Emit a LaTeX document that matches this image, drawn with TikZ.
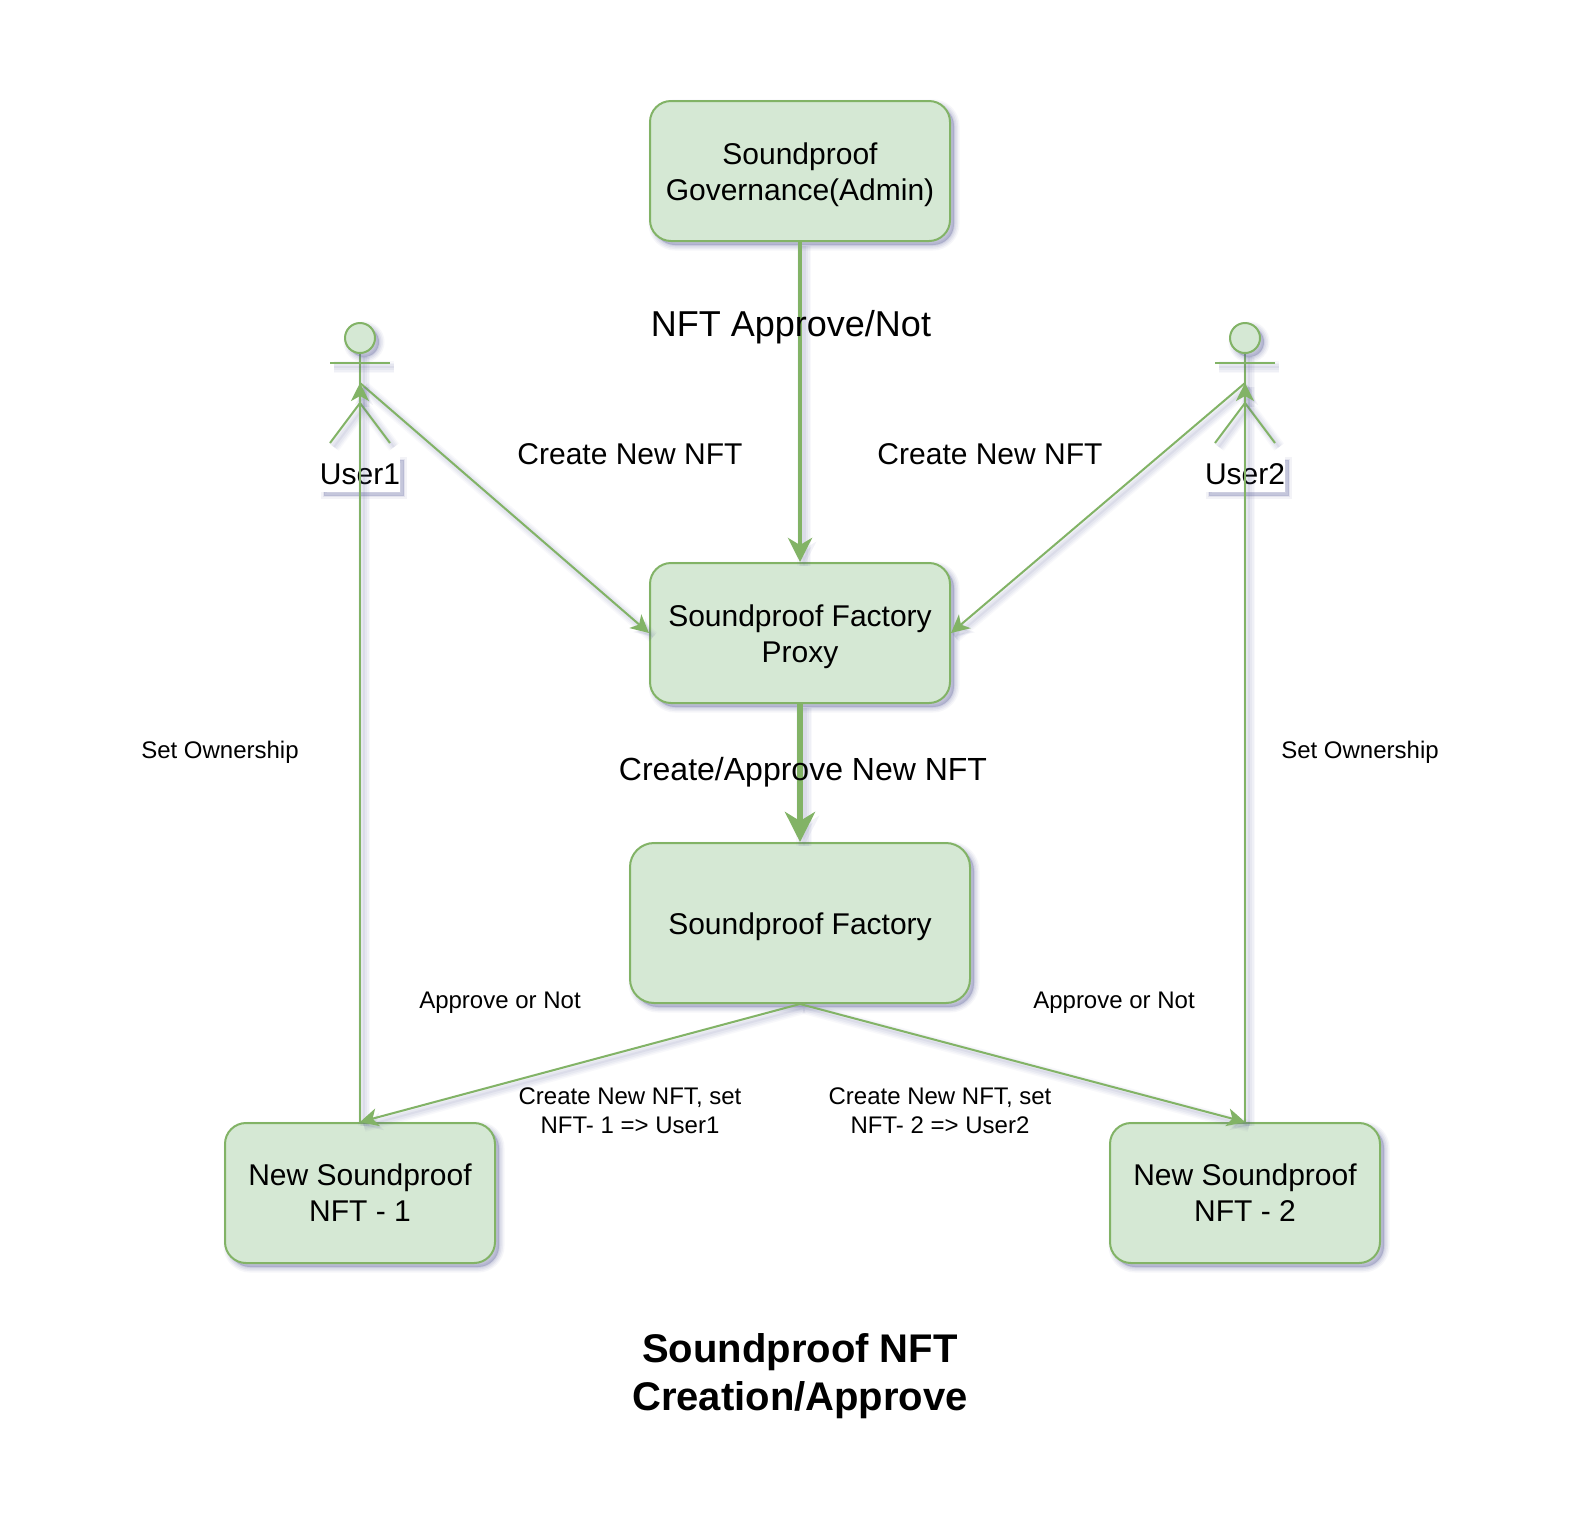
\documentclass[tikz,border=0pt]{standalone}
\usepackage{fontspec}
\setmainfont{Liberation Sans}
\usetikzlibrary{arrows.meta}
\definecolor{gfill}{HTML}{D5E8D4}
\definecolor{gline}{HTML}{82B366}
\definecolor{shc}{HTML}{5A5F9A}
\definecolor{ink}{HTML}{000000}
\newcommand{\fsz}[1]{\fontsize{#1}{\dimexpr#1pt*6/5\relax}\selectfont}
\newcommand{\st}{\rule[-.2535em]{0pt}{1.2em}}
\newcommand{\stb}{\rule[-.2535em]{0pt}{\dimexpr1.2em+2pt\relax}}
\tikzset{
  x=1pt,y=-1pt,
  sh/.style={transform canvas={shift={(4pt,-4pt)}}},
  softbox/.style={
    preaction={fill=shc,fill opacity=.3,draw=none,sh},
    preaction={draw=shc,draw opacity=.05,fill=none,line width=11pt,sh},
    preaction={draw=shc,draw opacity=.07,fill=none,line width=8pt,sh},
    preaction={draw=shc,draw opacity=.09,fill=none,line width=5pt,sh},
    preaction={draw=shc,draw opacity=.11,fill=none,line width=2pt,sh}},
  softline/.style={
    preaction={draw=shc,arrows=-,draw opacity=.04,line width=#1+10pt,sh},
    preaction={draw=shc,arrows=-,draw opacity=.05,line width=#1+7pt,sh},
    preaction={draw=shc,arrows=-,draw opacity=.06,line width=#1+4pt,sh},
    preaction={draw=shc,opacity=.08,line width=#1,sh}},
  box/.style={draw=gline,line width=2pt,fill=gfill,rounded corners=#1,softbox,align=center,text=ink,inner sep=0pt,font=\fsz{30}},
  lbl/.style={align=center,text=ink,inner sep=0pt,font=\fsz{#1}},
  conn/.style={draw=gline,line width=2pt,softline=2pt,-{Stealth[length=18pt,width=18pt,inset=5pt]}},
  thickconn/.style={draw=gline,line width=#1,softline=#1,-{Stealth[length=24pt,width=24pt,inset=7pt]}},
  actorline/.style={draw=gline,line width=2pt,softline=2pt},
}
\begin{document}
\begin{tikzpicture}
\useasboundingbox[fill=white] (0,0) rectangle (1594,1532);
% boxes
\node[box=21pt,minimum width=300pt,minimum height=140pt] (gov) at (800,171) {\stb Soundproof\\\st Governance(Admin)};
\node[box=21pt,minimum width=300pt,minimum height=140pt] (proxy) at (800,633) {\stb Soundproof Factory\\\st Proxy};
\node[box=24pt,minimum width=340pt,minimum height=160pt] (fac) at (800,923) {\stb Soundproof Factory};
\node[box=21pt,minimum width=270pt,minimum height=140pt] (n1) at (360,1193) {\st New Soundproof\\\st NFT - 1};
\node[box=21pt,minimum width=270pt,minimum height=140pt] (n2) at (1245,1193) {\st New Soundproof\\\st NFT - 2};
% actors
\foreach \nm/\ax/\tx in {u1/360/User1,u2/1245/User2}{
  \draw[actorline] (\ax,353) -- (\ax,403);
  \draw[actorline] (\ax-30,363) -- (\ax+30,363);
  \draw[actorline] (\ax-30,443) -- (\ax,403) -- (\ax+30,443);
  \draw[draw=gline,line width=2pt,fill=gfill,softbox] (\ax,338) circle (15);
  \coordinate (\nm) at (\ax,383);
  \node[lbl=30,fill=white,minimum width=80pt,minimum height=36pt,
        preaction={fill=shc,fill opacity=.3,sh},
        preaction={draw=shc,draw opacity=.07,line width=6pt,sh},
        preaction={draw=shc,draw opacity=.1,line width=2pt,sh}] (\nm l) at (\ax,474) {\st\tx};
}
% connectors
\draw[thickconn=4pt] (gov) -- (proxy);
\draw[thickconn=6pt,-{Stealth[length=30pt,width=30pt,inset=9pt]}] (proxy) -- (fac);
\draw[conn] (u1) -- (proxy.west);
\draw[conn] (u2) -- (proxy.east);
\draw[conn] (n1.north) -- (u1);
\draw[conn] (n2.north) -- (u2);
\draw[conn] (fac.south) -- (n1.north);
\draw[conn] (fac.south) -- (n2.north);
% labels
\node[lbl=36] (l1) at (791,324) {\st NFT Approve/Not};
\node[lbl=30] (l2) at (630,454) {\st Create New NFT};
\node[lbl=30] (l3) at (990,454) {\st Create New NFT};
\node[lbl=32] (l4) at (803,769) {\st Create/Approve New NFT};
\node[lbl=24] (l5) at (220,750) {\st Set Ownership};
\node[lbl=24] (l6) at (1360,750) {\st Set Ownership};
\node[lbl=24] (l7) at (500,1000.5) {\st Approve or Not};
\node[lbl=24] (l8) at (1114,1000.5) {\st Approve or Not};
\node[lbl=24] (l9) at (630,1111) {\st Create New NFT, set\\\st NFT- 1 =\textgreater{} User1};
\node[lbl=24] (l10) at (940,1111) {\st Create New NFT, set\\\st NFT- 2 =\textgreater{} User2};
\node[lbl=40,font=\fsz{40}\bfseries] (t) at (800,1372.5) {\st Soundproof NFT\\\st Creation/Approve};
\end{tikzpicture}
\end{document}
